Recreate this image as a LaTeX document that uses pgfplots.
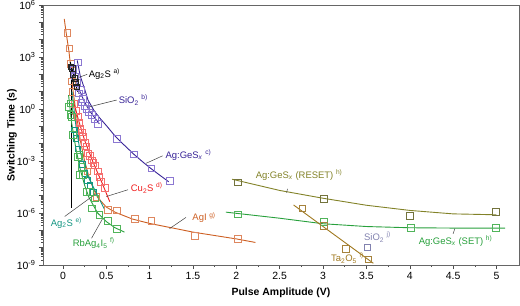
\documentclass[border=0pt]{standalone}
\usepackage{pgfplots}
\pgfplotsset{compat=1.18}
\usepackage{fontspec}
\setmainfont{Liberation Sans}
\definecolor{cAgI}{RGB}{205,95,35}
\definecolor{cAgIm}{RGB}{222,135,95}
\definecolor{cBlue}{RGB}{55,35,150}
\definecolor{cBlueM}{RGB}{140,120,210}
\definecolor{cRed}{RGB}{240,30,30}
\definecolor{cRedM}{RGB}{245,110,110}
\definecolor{cGreen}{RGB}{40,160,60}
\definecolor{cGreenM}{RGB}{80,180,90}
\definecolor{cTeal}{RGB}{20,150,130}
\definecolor{cOlive}{RGB}{130,130,40}
\definecolor{cOliveM}{RGB}{115,115,60}
\definecolor{cTa}{RGB}{160,120,30}
\definecolor{cTaM}{RGB}{165,130,60}
\definecolor{cSiO}{RGB}{130,130,175}
\def\minorlist{1e-9}
\foreach \e in {-9,...,5}{\foreach \m in {2,...,9}{\xdef\minorlist{\minorlist,\m e\e}}}
\begin{document}
\begin{tikzpicture}
\useasboundingbox (-43bp,-41bp) rectangle (477bp,265bp);
\begin{axis}[at={(0,0)}, anchor=south west, scale only axis,
  width=476bp, height=260bp,
  xmin=-0.23, xmax=5.26, ymode=log, ymin=1e-9, ymax=1e6,
  xtick={0,0.5,1,1.5,2,2.5,3,3.5,4,4.5,5}, minor x tick num=1,
  ytick={1e-9,1e-8,1e-7,1e-6,1e-5,1e-4,1e-3,1e-2,1e-1,1,1e1,1e2,1e3,1e4,1e5,1e6},
  minor ytick/.expanded={\minorlist},
  yticklabels={10\textsuperscript{-9},,,10\textsuperscript{-6},,,10\textsuperscript{-3},,,10\textsuperscript{0},,,10\textsuperscript{3},,,10\textsuperscript{6}},
  /pgf/number format/assume math mode=true,
  tick align=outside, tick pos=left,
  major tick length=4bp, minor tick length=2bp,
  axis line style={black!60, line width=0.8bp},
  every tick/.style={black!70, line width=0.5bp},
  tick label style={font=\fontsize{10.5}{12}\selectfont},
  xlabel={\textbf{Pulse Amplitude (V)}}, ylabel={\textbf{Switching Time (s)}},
  label style={font=\fontsize{10.5}{12}\selectfont},
  xlabel style={at={(axis description cs:0.5,-0.108)}, anchor=center},
  ylabel style={at={(axis description cs:-0.065,0.5)}, anchor=center},
  clip=true,
  sq/.style={only marks, mark=square, mark size=3.3bp, mark options={line width=0.6bp}},
  fit/.style={no marks, line width=0.9bp},
]
% AgI g)
\addplot[fit, cAgI] coordinates {(0.015,1.58e5)(0.04,2.0e4)(0.07,2.0e3)(0.09,2.5e2)(0.11,2.0e1)(0.14,1.58)(0.17,0.158)(0.2,1.58e-2)(0.25,1e-3)(0.3,1.26e-4)(0.35,2.5e-5)(0.4,7.9e-6)(0.5,2.2e-6)(0.6,1.12e-6)(0.8,4.5e-7)(1.0,2.5e-7)(1.35,1.12e-7)(1.5,7.9e-8)(2.0,3.2e-8)(2.22,2.0e-8)};
\addplot[sq, cAgIm] coordinates {(0.05,2.5e4)(0.075,3.2e3)(0.09,4.0e2)(0.10,4.0e1)(0.11,1.0e1)(0.28,2.5e-4)(0.385,8.7e-6)(0.52,1.58e-6)(0.62,1.41e-6)(0.83,4.5e-7)(1.02,3.5e-7)(1.52,5.0e-8)(2.02,3.2e-8)};
% SiO2 b) and Ag:GeSx c)
\addplot[sq, cBlueM] coordinates {(0.12,2.0e2)(0.17,5.0e2)(0.14,7.9e1)(0.16,3.2e1)(0.21,1.26e1)(0.18,7.9)(0.23,4.0)(0.21,2.5)(0.25,1.58)(0.27,1.0)(0.30,0.63)(0.33,0.45)(0.37,0.28)(0.40,0.14)(0.62,1.9e-2)(0.82,2.4e-3)(1.02,3.8e-4)(1.23,7.1e-5)};
\addplot[fit, cBlue] coordinates {(0.11,3.2e2)(0.15,50)(0.2,8.9)(0.25,2.5)(0.3,0.89)(0.35,0.4)(0.42,0.14)};
\addplot[fit, cBlue] coordinates {(0.165,6.3e2)(0.2,7.9e1)(0.25,1.4e1)(0.29,3.2)(0.36,0.79)(0.42,0.32)(0.5,0.112)(0.6,2.8e-2)(0.7,8.9e-3)(0.82,2.4e-3)(0.92,8.9e-4)(1.02,3.5e-4)(1.22,6.3e-5)};
% Ag2S a)
\addplot[sq, black!85, mark size=2.6bp] coordinates {(0.09,2.8e2)(0.108,2.2e2)(0.115,1.0e2)(0.135,5.9e1)(0.146,3.5e1)(0.16,2.0e1)};
\addplot[fit, black] coordinates {(0.085,5.0e2)(0.17,1.0e1)};
\addplot[fit, black, line width=0.7bp] coordinates {(0.097,3.5e2)(0.097,1.95e-6)};
% Cu2S d)
\addplot[sq, cRedM] coordinates {(0.13,2.0)(0.15,0.79)(0.17,0.35)(0.19,0.158)(0.2,7.1e-2)(0.22,4.5e-2)(0.23,2.5e-2)(0.25,1.12e-2)(0.27,7.1e-3)(0.29,2.8e-3)(0.31,2.0e-3)(0.33,1.12e-3)(0.35,7.9e-4)(0.37,5.6e-4)(0.40,2.5e-4)(0.42,1.26e-4)(0.44,6.3e-5)(0.48,2.8e-5)};
\addplot[fit, cRed] coordinates {(0.115,3.5)(0.18,0.224)(0.25,1.58e-2)(0.35,7.9e-4)(0.45,5.6e-5)(0.54,4.5e-6)};
% Ag2S e)
\addplot[sq, cTeal, mark size=2.8bp] coordinates {(0.13,6.3e-2)(0.15,2.0e-2)(0.17,5.0e-3)(0.19,2.0e-3)(0.22,6.3e-4)(0.25,2.0e-4)(0.28,7.9e-5)(0.31,4.0e-5)(0.35,1.58e-5)};
\addplot[fit, cTeal] coordinates {(0.105,10)(0.15,0.1)(0.2,3.2e-3)(0.3,1e-4)(0.4,1e-5)(0.48,1.58e-6)};
% RbAg4I5 f)
\addplot[sq, cGreenM] coordinates {(0.066,1.35)(0.085,2.1)(0.085,0.45)(0.104,0.35)(0.115,3.2e-2)(0.17,1.8e-3)(0.19,2.2e-3)(0.21,4.7e-4)(0.19,1.58e-4)(0.23,1.58e-4)(0.27,1.7e-5)(0.31,1.7e-5)(0.37,7.1e-6)(0.33,1.86e-6)(0.42,7.6e-7)(0.52,3.5e-7)(0.62,1.26e-7)};
\addplot[fit, cGreen] coordinates {(0.065,6.3)(0.1,0.158)(0.15,5.0e-3)(0.2,3.2e-4)(0.25,4.0e-5)(0.3,7.9e-6)(0.4,1e-6)(0.5,3.2e-7)(0.6,1.41e-7)(0.71,7.9e-8)};
% Ag:GeSx RESET h)
\addplot[sq, cOliveM] coordinates {(2.02,5.9e-5)(3.01,6.5e-6)(4.0,6.9e-7)(4.99,1.17e-6)};
\addplot[fit, cOlive] coordinates {(1.95,8.9e-5)(2.5,2.0e-5)(3.0,7.1e-6)(3.5,2.8e-6)(4.0,1.41e-6)(4.5,8.9e-7)(5.0,7.9e-7)};
% Ag:GeSx SET h)
\addplot[sq, cGreenM] coordinates {(2.02,8.3e-7)(3.01,3.2e-7)(4.01,1.41e-7)(4.99,1.41e-7)};
\addplot[fit, cGreen] coordinates {(1.88,1.12e-6)(2.5,5.0e-7)(3.0,2.4e-7)(3.5,1.66e-7)(4.0,1.41e-7)(4.5,1.35e-7)(5.1,1.35e-7)};
% Ta2O5 i)
\addplot[sq, cTaM] coordinates {(2.76,1.86e-6)(3.01,1.78e-7)(3.26,8.3e-9)(3.52,2.1e-9)};
\addplot[fit, cTa] coordinates {(2.66,2.9e-6)(3.58,1.26e-9)};
% SiO2 j)
\addplot[sq, cSiO] coordinates {(3.51,1.05e-8)};
% pointers
\begin{scope}[line width=0.5bp, black!75]
\draw (axis cs:0.17,6.3e1) -- (axis cs:0.28,1.0e2);
\draw (axis cs:0.31,1.35) -- (axis cs:0.62,3.3);
\draw (axis cs:0.96,7.4e-4) -- (axis cs:1.15,2.0e-3);
\draw (axis cs:0.5,8.9e-6) -- (axis cs:0.75,2.2e-5);
\draw (axis cs:0.02,6.3e-7) -- (axis cs:0.385,1.35e-5);
\draw (axis cs:0.33,3.5e-8) -- (axis cs:0.46,5.0e-7);
\draw (axis cs:1.23,1.26e-7) -- (axis cs:1.42,5.6e-7);
\draw (axis cs:2.58,1.48e-5) -- (axis cs:2.59,2.5e-5);
\draw (axis cs:4.52,1.26e-7) -- (axis cs:4.5,6.3e-8);
\end{scope}
% labels
\begin{scope}[font=\fontsize{9.5}{11}\selectfont, inner sep=1bp]
\node[anchor=west, black] at (axis cs:0.285,1.05e2) {Ag\textsubscript{2}S \textsuperscript{a)}};
\node[anchor=west, cBlue] at (axis cs:0.63,3.3) {SiO\textsubscript{2} \textsuperscript{b)}};
\node[anchor=west, cBlue] at (axis cs:1.17,2.2e-3) {Ag:GeS\textsubscript{\textit{x}} \textsuperscript{c)}};
\node[anchor=west, cRed] at (axis cs:0.77,2.75e-5) {Cu\textsubscript{2}S \textsuperscript{d)}};
\node[anchor=center, cTeal] at (axis cs:0.04,2.75e-7) {Ag\textsubscript{2}S \textsuperscript{e)}};
\node[anchor=center, cGreen] at (axis cs:0.355,1.78e-8) {RbAg\textsubscript{4}I\textsubscript{5} \textsuperscript{f)}};
\node[anchor=west, cAgI] at (axis cs:1.48,5.4e-7) {AgI \textsuperscript{g)}};
\node[anchor=west, cOlive] at (axis cs:2.21,1.55e-4) {Ag:GeS\textsubscript{\textit{x}} (RESET) \textsuperscript{h)}};
\node[anchor=west, cGreen] at (axis cs:4.09,2.5e-8) {Ag:GeS\textsubscript{\textit{x}} (SET) \textsuperscript{h)}};
\node[anchor=west, cTa] at (axis cs:3.08,2.5e-9) {Ta\textsubscript{2}O\textsubscript{5} \textsuperscript{i)}};
\node[anchor=west, cSiO] at (axis cs:3.46,4.1e-8) {SiO\textsubscript{2} \textsuperscript{j)}};
\end{scope}
\end{axis}
\draw[black!60, line width=0.8bp] (0,260bp) -- (476bp,260bp) -- (476bp,0);
\end{tikzpicture}
\end{document}
